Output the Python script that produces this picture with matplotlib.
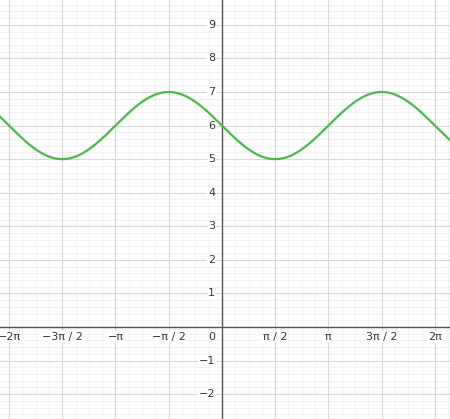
import numpy as np
import matplotlib.pyplot as plt

# curve: y = offset - amplitude * sin(x)
offset = 6.0
amplitude = 1.0
x_range = (-6.55, 6.73)
y_range = (-2.74, 9.74)

x_tick_vals = [-2*np.pi, -1.5*np.pi, -np.pi, -0.5*np.pi, 0.5*np.pi, np.pi, 1.5*np.pi, 2*np.pi]
x_tick_labels = ['−2π', '−3π / 2', '−π', '−π / 2', 'π / 2', 'π', '3π / 2', '2π']
y_tick_vals = [-2, -1, 1, 2, 3, 4, 5, 6, 7, 8, 9]

x = np.linspace(x_range[0], x_range[1], 800)
y = offset - amplitude * np.sin(x)

fig = plt.figure(figsize=(4.5, 4.19), dpi=100)
ax = fig.add_axes([0, 0, 1, 1])
ax.set_xlim(*x_range)
ax.set_ylim(*y_range)

# grid
for v in np.arange(-6, 7) * np.pi / 2 / 4 * 1:
    pass
minor_x = np.arange(-20, 21) * np.pi / 8
for v in minor_x:
    ax.axvline(v, color='#f0f0f0', lw=0.6, zorder=0)
for v in np.arange(-3, 10.01, 0.2):
    ax.axhline(v, color='#f0f0f0', lw=0.6, zorder=0)
for v in np.arange(-5, 6) * np.pi / 2:
    ax.axvline(v, color='#d8d8d8', lw=0.8, zorder=0)
for v in range(-3, 11):
    ax.axhline(v, color='#d8d8d8', lw=0.8, zorder=0)

ax.axhline(0, color='#555555', lw=1, zorder=1)
ax.axvline(0, color='#555555', lw=1, zorder=1)

ax.plot(x, y, color='#4cb84c', lw=1.6, zorder=3)

for v, lab in zip(x_tick_vals, x_tick_labels):
    ax.text(v, -0.15, lab, ha='center', va='top', fontsize=8, color='#333333',
            bbox=dict(facecolor='white', edgecolor='none', pad=0.5), zorder=2)
for v in y_tick_vals:
    ax.text(-0.2, v, '−%d' % -v if v < 0 else str(v), ha='right', va='center',
            fontsize=8, color='#333333',
            bbox=dict(facecolor='white', edgecolor='none', pad=0.5), zorder=2)
ax.text(-0.2, -0.15, '0', ha='right', va='top', fontsize=8, color='#333333')

ax.set_xticks([])
ax.set_yticks([])
for s in ax.spines.values():
    s.set_visible(False)

fig.savefig('out.png', dpi=100)
